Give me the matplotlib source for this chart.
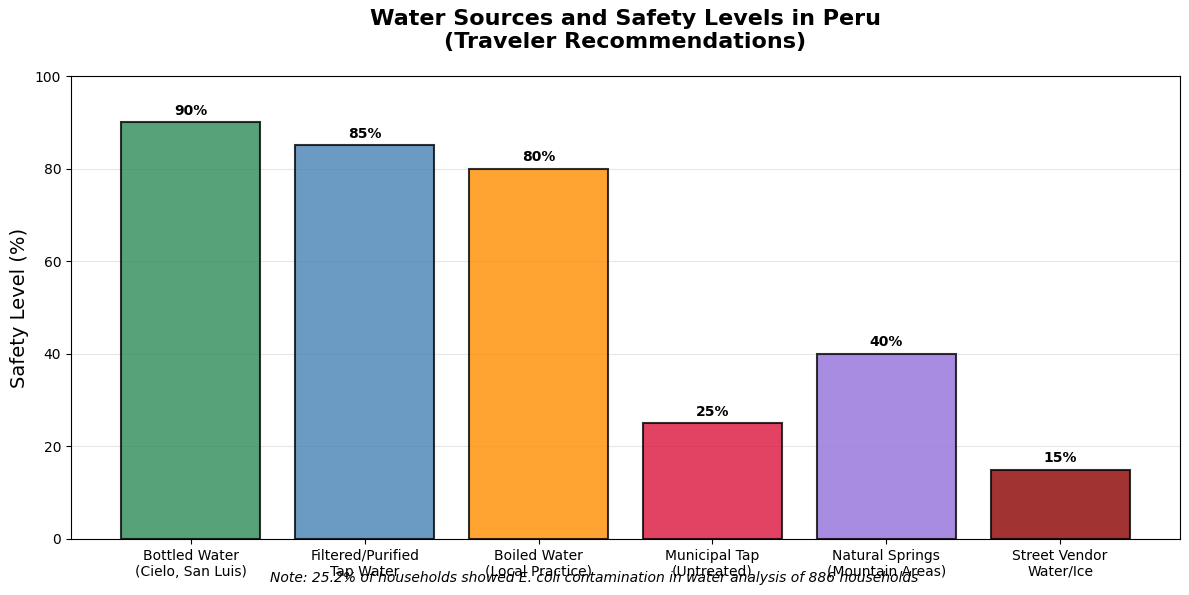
import matplotlib
matplotlib.use("Agg")
import matplotlib.pyplot as plt

categories = ["Bottled Water\n(Cielo, San Luis)", "Filtered/Purified\nTap Water",
              "Boiled Water\n(Local Practice)", "Municipal Tap\n(Untreated)",
              "Natural Springs\n(Mountain Areas)", "Street Vendor\nWater/Ice"]
safety = [90, 85, 80, 25, 40, 15]
colors = ["#2E8B57", "#4682B4", "#FF8C00", "#DC143C", "#9370DB", "#8B0000"]

fig = plt.figure(figsize=(11.89, 5.95), dpi=100)
ax = fig.add_axes([71/1189, 1-539/595, (1180-71)/1189, (539-76)/595])

x = range(len(categories))
bars = ax.bar(x, safety, width=0.8, color=colors, alpha=0.8, edgecolor="black", linewidth=1.5)
for b, v in zip(bars, safety):
    ax.text(b.get_x() + b.get_width()/2, v + 1, f"{v}%", ha="center", va="bottom",
            fontsize=10, fontweight="bold")

ax.set_xticks(list(x))
ax.set_xticklabels(categories, fontsize=10)
ax.set_ylim(0, 100)
ax.set_ylabel("Safety Level (%)", fontsize=14)
ax.set_title("Water Sources and Safety Levels in Peru\n(Traveler Recommendations)",
             fontsize=16, fontweight="bold", pad=20)
ax.grid(axis="y", alpha=0.3)
ax.set_axisbelow(True)

fig.text(0.5, 1-578/595, "Note: 25.2% of households showed E. coli contamination in water analysis of 886 households",
         ha="center", va="center", fontsize=10, style="italic")

fig.savefig("out.png", dpi=100)
